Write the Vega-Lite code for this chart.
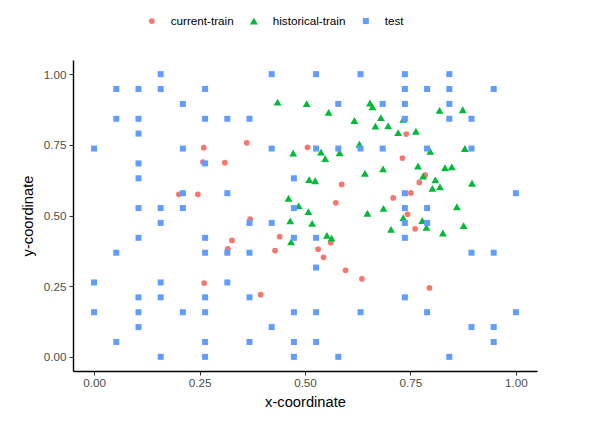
{
  "$schema": "https://vega.github.io/schema/vega-lite/v6.json",
  "width": 464,
  "height": 311,
  "autosize": {"type": "none"},
  "padding": {"left": 73, "top": 60, "right": 54, "bottom": 52},
  "background": "white",
  "data": {
    "values": [
      {"set": "current-train", "x": 0.260, "y": 0.740},
      {"set": "current-train", "x": 0.362, "y": 0.757},
      {"set": "current-train", "x": 0.506, "y": 0.741},
      {"set": "current-train", "x": 0.258, "y": 0.689},
      {"set": "current-train", "x": 0.310, "y": 0.687},
      {"set": "current-train", "x": 0.201, "y": 0.575},
      {"set": "current-train", "x": 0.246, "y": 0.575},
      {"set": "current-train", "x": 0.370, "y": 0.487},
      {"set": "current-train", "x": 0.327, "y": 0.412},
      {"set": "current-train", "x": 0.440, "y": 0.425},
      {"set": "current-train", "x": 0.317, "y": 0.382},
      {"set": "current-train", "x": 0.429, "y": 0.376},
      {"set": "current-train", "x": 0.261, "y": 0.261},
      {"set": "current-train", "x": 0.395, "y": 0.220},
      {"set": "current-train", "x": 0.740, "y": 0.788},
      {"set": "current-train", "x": 0.731, "y": 0.703},
      {"set": "current-train", "x": 0.587, "y": 0.610},
      {"set": "current-train", "x": 0.785, "y": 0.643},
      {"set": "current-train", "x": 0.771, "y": 0.617},
      {"set": "current-train", "x": 0.751, "y": 0.580},
      {"set": "current-train", "x": 0.709, "y": 0.562},
      {"set": "current-train", "x": 0.573, "y": 0.545},
      {"set": "current-train", "x": 0.743, "y": 0.504},
      {"set": "current-train", "x": 0.761, "y": 0.453},
      {"set": "current-train", "x": 0.561, "y": 0.404},
      {"set": "current-train", "x": 0.531, "y": 0.381},
      {"set": "current-train", "x": 0.544, "y": 0.352},
      {"set": "current-train", "x": 0.596, "y": 0.306},
      {"set": "current-train", "x": 0.635, "y": 0.276},
      {"set": "current-train", "x": 0.795, "y": 0.244},
      {"set": "historical-train", "x": 0.435, "y": 0.901},
      {"set": "historical-train", "x": 0.504, "y": 0.896},
      {"set": "historical-train", "x": 0.556, "y": 0.865},
      {"set": "historical-train", "x": 0.654, "y": 0.898},
      {"set": "historical-train", "x": 0.660, "y": 0.884},
      {"set": "historical-train", "x": 0.617, "y": 0.836},
      {"set": "historical-train", "x": 0.680, "y": 0.846},
      {"set": "historical-train", "x": 0.667, "y": 0.816},
      {"set": "historical-train", "x": 0.697, "y": 0.817},
      {"set": "historical-train", "x": 0.733, "y": 0.840},
      {"set": "historical-train", "x": 0.721, "y": 0.793},
      {"set": "historical-train", "x": 0.763, "y": 0.798},
      {"set": "historical-train", "x": 0.819, "y": 0.872},
      {"set": "historical-train", "x": 0.874, "y": 0.874},
      {"set": "historical-train", "x": 0.629, "y": 0.752},
      {"set": "historical-train", "x": 0.472, "y": 0.721},
      {"set": "historical-train", "x": 0.538, "y": 0.724},
      {"set": "historical-train", "x": 0.548, "y": 0.701},
      {"set": "historical-train", "x": 0.582, "y": 0.722},
      {"set": "historical-train", "x": 0.797, "y": 0.727},
      {"set": "historical-train", "x": 0.879, "y": 0.737},
      {"set": "historical-train", "x": 0.685, "y": 0.665},
      {"set": "historical-train", "x": 0.642, "y": 0.649},
      {"set": "historical-train", "x": 0.768, "y": 0.675},
      {"set": "historical-train", "x": 0.832, "y": 0.669},
      {"set": "historical-train", "x": 0.848, "y": 0.672},
      {"set": "historical-train", "x": 0.780, "y": 0.639},
      {"set": "historical-train", "x": 0.809, "y": 0.626},
      {"set": "historical-train", "x": 0.802, "y": 0.596},
      {"set": "historical-train", "x": 0.820, "y": 0.601},
      {"set": "historical-train", "x": 0.896, "y": 0.614},
      {"set": "historical-train", "x": 0.510, "y": 0.627},
      {"set": "historical-train", "x": 0.524, "y": 0.623},
      {"set": "historical-train", "x": 0.461, "y": 0.561},
      {"set": "historical-train", "x": 0.485, "y": 0.534},
      {"set": "historical-train", "x": 0.508, "y": 0.514},
      {"set": "historical-train", "x": 0.648, "y": 0.508},
      {"set": "historical-train", "x": 0.686, "y": 0.525},
      {"set": "historical-train", "x": 0.860, "y": 0.531},
      {"set": "historical-train", "x": 0.733, "y": 0.492},
      {"set": "historical-train", "x": 0.778, "y": 0.482},
      {"set": "historical-train", "x": 0.465, "y": 0.481},
      {"set": "historical-train", "x": 0.517, "y": 0.472},
      {"set": "historical-train", "x": 0.467, "y": 0.407},
      {"set": "historical-train", "x": 0.552, "y": 0.430},
      {"set": "historical-train", "x": 0.563, "y": 0.420},
      {"set": "historical-train", "x": 0.788, "y": 0.458},
      {"set": "historical-train", "x": 0.704, "y": 0.451},
      {"set": "historical-train", "x": 0.827, "y": 0.438},
      {"set": "historical-train", "x": 0.876, "y": 0.464},
      {"set": "test", "x": 0.1579, "y": 1},
      {"set": "test", "x": 0.4211, "y": 1},
      {"set": "test", "x": 0.5263, "y": 1},
      {"set": "test", "x": 0.6316, "y": 1},
      {"set": "test", "x": 0.7368, "y": 1},
      {"set": "test", "x": 0.8421, "y": 1},
      {"set": "test", "x": 0.0526, "y": 0.9474},
      {"set": "test", "x": 0.1053, "y": 0.9474},
      {"set": "test", "x": 0.1579, "y": 0.9474},
      {"set": "test", "x": 0.2632, "y": 0.9474},
      {"set": "test", "x": 0.7368, "y": 0.9474},
      {"set": "test", "x": 0.7895, "y": 0.9474},
      {"set": "test", "x": 0.8421, "y": 0.9474},
      {"set": "test", "x": 0.9474, "y": 0.9474},
      {"set": "test", "x": 0.2105, "y": 0.8947},
      {"set": "test", "x": 0.5789, "y": 0.8947},
      {"set": "test", "x": 0.6842, "y": 0.8947},
      {"set": "test", "x": 0.7368, "y": 0.8947},
      {"set": "test", "x": 0.8421, "y": 0.8947},
      {"set": "test", "x": 0.0526, "y": 0.8421},
      {"set": "test", "x": 0.1053, "y": 0.8421},
      {"set": "test", "x": 0.2632, "y": 0.8421},
      {"set": "test", "x": 0.3158, "y": 0.8421},
      {"set": "test", "x": 0.3684, "y": 0.8421},
      {"set": "test", "x": 0.7368, "y": 0.8421},
      {"set": "test", "x": 0.8421, "y": 0.8421},
      {"set": "test", "x": 0.8947, "y": 0.8421},
      {"set": "test", "x": 0.1053, "y": 0.7895},
      {"set": "test", "x": 0, "y": 0.7368},
      {"set": "test", "x": 0.2105, "y": 0.7368},
      {"set": "test", "x": 0.4211, "y": 0.7368},
      {"set": "test", "x": 0.5263, "y": 0.7368},
      {"set": "test", "x": 0.5789, "y": 0.7368},
      {"set": "test", "x": 0.6316, "y": 0.7368},
      {"set": "test", "x": 0.6842, "y": 0.7368},
      {"set": "test", "x": 0.7895, "y": 0.7368},
      {"set": "test", "x": 0.8947, "y": 0.7368},
      {"set": "test", "x": 0.1053, "y": 0.6842},
      {"set": "test", "x": 0.2632, "y": 0.6842},
      {"set": "test", "x": 0.1053, "y": 0.6316},
      {"set": "test", "x": 0.4737, "y": 0.6316},
      {"set": "test", "x": 0.2105, "y": 0.5789},
      {"set": "test", "x": 0.3158, "y": 0.5789},
      {"set": "test", "x": 0.7368, "y": 0.5789},
      {"set": "test", "x": 1, "y": 0.5789},
      {"set": "test", "x": 0.1053, "y": 0.5263},
      {"set": "test", "x": 0.1579, "y": 0.5263},
      {"set": "test", "x": 0.2105, "y": 0.5263},
      {"set": "test", "x": 0.4737, "y": 0.5263},
      {"set": "test", "x": 0.7368, "y": 0.5263},
      {"set": "test", "x": 0.7895, "y": 0.5263},
      {"set": "test", "x": 0.1579, "y": 0.4737},
      {"set": "test", "x": 0.3684, "y": 0.4737},
      {"set": "test", "x": 0.4211, "y": 0.4737},
      {"set": "test", "x": 0.7368, "y": 0.4737},
      {"set": "test", "x": 0.7895, "y": 0.4737},
      {"set": "test", "x": 0.1053, "y": 0.4211},
      {"set": "test", "x": 0.2632, "y": 0.4211},
      {"set": "test", "x": 0.4737, "y": 0.4211},
      {"set": "test", "x": 0.5263, "y": 0.4211},
      {"set": "test", "x": 0.7368, "y": 0.4211},
      {"set": "test", "x": 0.0526, "y": 0.3684},
      {"set": "test", "x": 0.2632, "y": 0.3684},
      {"set": "test", "x": 0.3158, "y": 0.3684},
      {"set": "test", "x": 0.3684, "y": 0.3684},
      {"set": "test", "x": 0.8947, "y": 0.3684},
      {"set": "test", "x": 0.9474, "y": 0.3684},
      {"set": "test", "x": 0.5263, "y": 0.3158},
      {"set": "test", "x": 0, "y": 0.2632},
      {"set": "test", "x": 0.1579, "y": 0.2632},
      {"set": "test", "x": 0.3158, "y": 0.2632},
      {"set": "test", "x": 0.1053, "y": 0.2105},
      {"set": "test", "x": 0.1579, "y": 0.2105},
      {"set": "test", "x": 0.2632, "y": 0.2105},
      {"set": "test", "x": 0.3684, "y": 0.2105},
      {"set": "test", "x": 0.7368, "y": 0.2105},
      {"set": "test", "x": 0, "y": 0.1579},
      {"set": "test", "x": 0.1053, "y": 0.1579},
      {"set": "test", "x": 0.2105, "y": 0.1579},
      {"set": "test", "x": 0.2632, "y": 0.1579},
      {"set": "test", "x": 0.4737, "y": 0.1579},
      {"set": "test", "x": 0.5263, "y": 0.1579},
      {"set": "test", "x": 0.6316, "y": 0.1579},
      {"set": "test", "x": 0.7895, "y": 0.1579},
      {"set": "test", "x": 1, "y": 0.1579},
      {"set": "test", "x": 0.1053, "y": 0.1053},
      {"set": "test", "x": 0.4211, "y": 0.1053},
      {"set": "test", "x": 0.8947, "y": 0.1053},
      {"set": "test", "x": 0.9474, "y": 0.1053},
      {"set": "test", "x": 0.0526, "y": 0.0526},
      {"set": "test", "x": 0.2632, "y": 0.0526},
      {"set": "test", "x": 0.3684, "y": 0.0526},
      {"set": "test", "x": 0.4737, "y": 0.0526},
      {"set": "test", "x": 0.5263, "y": 0.0526},
      {"set": "test", "x": 0.9474, "y": 0.0526},
      {"set": "test", "x": 0.1579, "y": 0},
      {"set": "test", "x": 0.2632, "y": 0},
      {"set": "test", "x": 0.4737, "y": 0},
      {"set": "test", "x": 0.5789, "y": 0},
      {"set": "test", "x": 0.8421, "y": 0}
    ]
  },
  "mark": {"type": "point", "filled": true, "opacity": 1, "strokeWidth": 0},
  "encoding": {
    "x": {
      "field": "x",
      "type": "quantitative",
      "title": "x-coordinate",
      "scale": {"domain": [-0.05, 1.05], "nice": false, "zero": false},
      "axis": {"values": [0, 0.25, 0.5, 0.75, 1], "format": ".2f"}
    },
    "y": {
      "field": "y",
      "type": "quantitative",
      "title": "y-coordinate",
      "scale": {"domain": [-0.05, 1.05], "nice": false, "zero": false},
      "axis": {"values": [0, 0.25, 0.5, 0.75, 1], "format": ".2f"}
    },
    "color": {
      "field": "set",
      "type": "nominal",
      "scale": {
        "domain": ["current-train", "historical-train", "test"],
        "range": ["#F8766D", "#00BA38", "#619CFF"]
      },
      "legend": {
        "title": null,
        "orient": "none",
        "direction": "horizontal",
        "legendX": 73,
        "legendY": -45,
        "padding": 0,
        "symbolSize": 36,
        "labelOffset": 13,
        "columnPadding": 14,
        "labelFontSize": 11.7,
        "labelColor": "#000000",
        "labelFont": "Liberation Sans"
      }
    },
    "shape": {
      "field": "set",
      "type": "nominal",
      "scale": {
        "domain": ["current-train", "historical-train", "test"],
        "range": ["circle", "triangle-up", "square"]
      },
      "legend": null
    },
    "size": {
      "field": "set",
      "type": "nominal",
      "scale": {
        "type": "ordinal",
        "domain": ["current-train", "historical-train", "test"],
        "range": [33, 62, 36]
      },
      "legend": null
    }
  },
  "config": {
    "view": {"stroke": null},
    "font": "Liberation Sans",
    "axis": {
      "grid": false,
      "domainColor": "#000000",
      "domainWidth": 1.4,
      "tickColor": "#333333",
      "tickSize": 4,
      "tickWidth": 1,
      "labelColor": "#4D4D4D",
      "labelFontSize": 11.7,
      "labelFont": "Liberation Sans",
      "labelPadding": 2,
      "titleColor": "#000000",
      "titleFontSize": 14.7,
      "titleFontWeight": "normal",
      "titleFont": "Liberation Sans"
    },
    "axisX": {"titlePadding": 6},
    "axisY": {"titlePadding": 8, "labelPadding": 3}
  }
}
